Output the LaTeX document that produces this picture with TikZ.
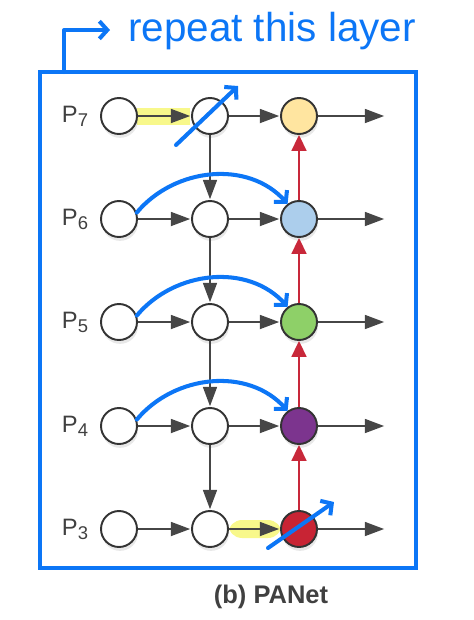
\documentclass[tikz,border=0pt]{standalone}
\usepackage{fontspec}
\setmainfont{Liberation Sans}
\usetikzlibrary{arrows.meta,shadows}

\definecolor{penblue}{RGB}{12,118,246}
\definecolor{edgegray}{RGB}{70,70,70}
\definecolor{upred}{RGB}{200,40,58}
\definecolor{hlyellow}{RGB}{246,246,110}
\definecolor{fsev}{RGB}{255,229,160}
\definecolor{fsix}{RGB}{172,206,236}
\definecolor{ffive}{RGB}{142,208,104}
\definecolor{ffour}{RGB}{124,52,142}
\definecolor{fthree}{RGB}{200,36,52}

\tikzset{
  feat/.style={circle, draw=black!80, line width=1.1pt, fill=white,
    minimum size=0.72cm, inner sep=0pt,
    drop shadow={opacity=0.18, shadow xshift=0.6pt, shadow yshift=-2.2pt}},
  plabel/.style={font=\fontsize{13.5}{13.5}\selectfont, text=black!75},
  flow/.style={draw=edgegray, line width=0.9pt,
    -{Triangle[length=11pt,width=8pt]}, shorten >=0.5pt},
  upflow/.style={draw=upred, line width=0.9pt,
    -{Triangle[length=9pt,width=8.5pt]}},
  pen/.style={draw=penblue, line width=2.3pt, line cap=round, line join=round,
    -{Straight Barb[length=4.5pt,width=10pt]}},
  hlmark/.style={fill=hlyellow, opacity=0.8}
}

\begin{document}
\begin{tikzpicture}[x=0.02cm, y=-0.02cm]
    \useasboundingbox (0,0) rectangle (474,620);

    % yellow marks under the two changed edges
    \fill[hlmark] (137,108) rectangle (190,125);
    \fill[hlmark, rounded corners=8pt] (228,520) rectangle (282,538);

    % levels P7 ... P3
    \foreach \n/\y/\col in {7/116/fsev, 6/219/fsix, 5/322/ffive, 4/426/ffour, 3/529/fthree} {
        \node[plabel] (p\n) at (75,\y) {P{\fontsize{10.5}{10.5}\selectfont\raisebox{-0.4ex}{\n}}};
        \node[feat] (a\n) at (119,\y) {};
        \node[feat] (b\n) at (210,\y) {};
        \node[feat, fill=\col] (c\n) at (299,\y) {};
        \coordinate (o\n) at (385,\y);
    }

    % horizontal edges
    \foreach \n in {7,6,5,4,3} {
        \draw[flow] (a\n) -- (b\n);
        \draw[flow] (b\n) -- (c\n);
        \draw[flow] (c\n) -- (o\n);
    }

    % top-down path (gray)
    \foreach \u/\d in {7/6, 6/5, 5/4, 4/3}
        \draw[flow] (b\u) -- (b\d);

    % bottom-up path (red)
    \foreach \d/\u in {3/4, 4/5, 5/6, 6/7}
        \draw[upflow] (c\d) -- (c\u);

    % blue skip connections
    \foreach \n in {6,5,4}
        \draw[pen] (a\n.20) to[out=50, in=132] (c\n.127);

    % blue strokes across the changed nodes
    \draw[pen] ([shift={(-34,29)}]b7.center) -- ([shift={(28,-30)}]b7.center);
    \draw[pen] ([shift={(-31,19)}]c3.center) -- ([shift={(35,-27)}]c3.center);

    % frame and repeat arrow
    \draw[penblue, line width=2.4pt] (40,72) rectangle (416,568);
    \coordinate (fr) at (64,72);
    \coordinate (rp) at (110,30);
    \draw[pen] (fr) |- (rp);
    \node[text=penblue, font=\fontsize{23}{23}\selectfont, anchor=west] (rep) at (122,31) {repeat this layer};

    % caption
    \node[font=\bfseries\fontsize{14.5}{14.5}\selectfont, text=black!75] (cap) at (271,597) {(b) PANet};
\end{tikzpicture}
\end{document}
